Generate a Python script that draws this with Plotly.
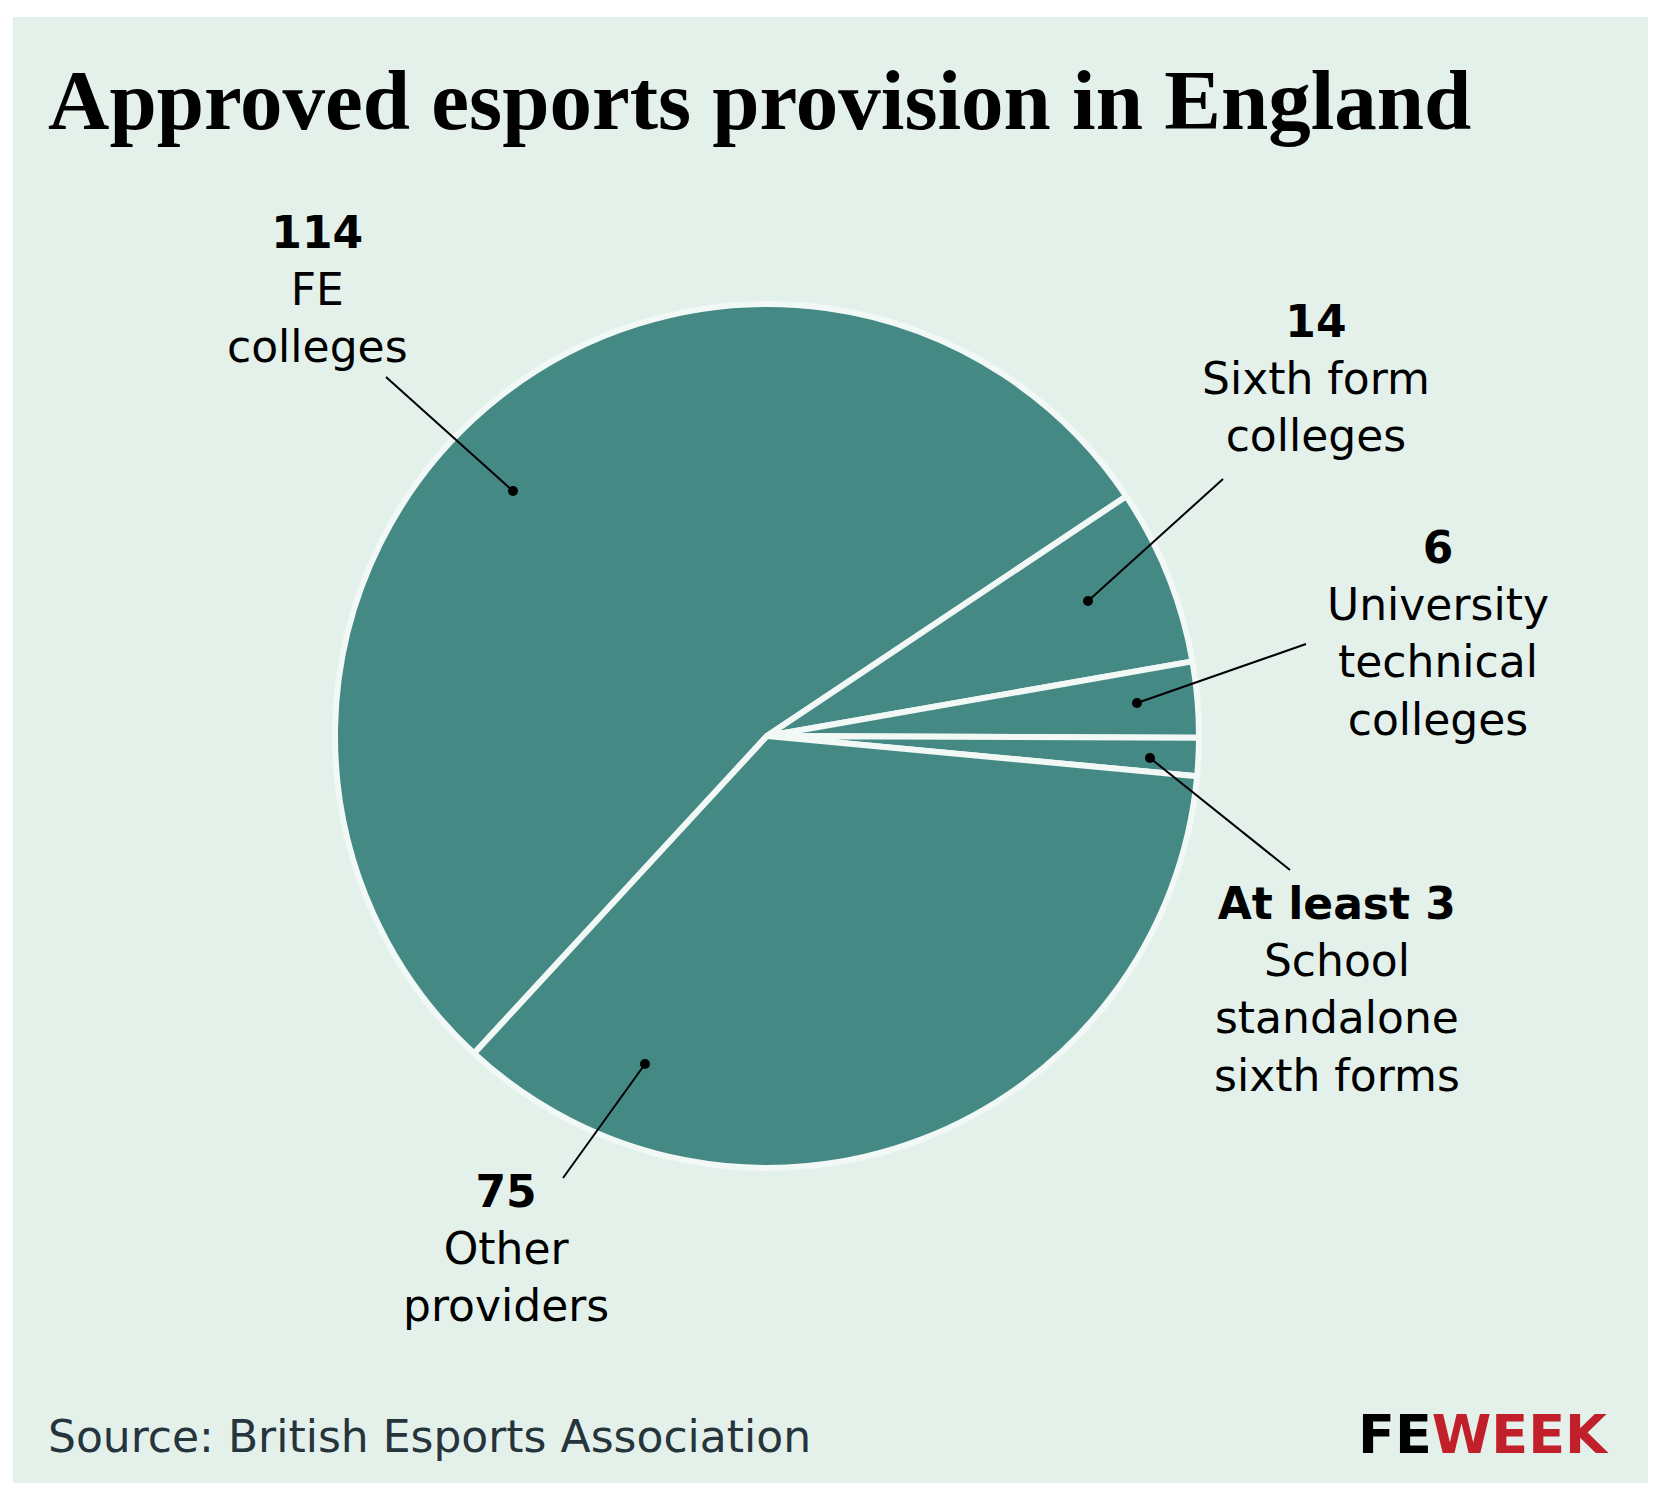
import plotly.graph_objects as go

# ---------------- data ----------------
categories = ["FE colleges", "Sixth form colleges", "University technical colleges",
              "School standalone sixth forms", "Other providers"]
values = [114, 14, 6, 3, 75]
value_labels = ["114", "14", "6", "At least 3", "75"]
name_lines = ["FE<br>colleges", "Sixth form<br>colleges", "University<br>technical<br>colleges",
              "School<br>standalone<br>sixth forms", "Other<br>providers"]

title_text = "Approved esports provision in England"
source_text = "Source: British Esports Association"

# ---------------- layout helpers (pixel -> paper) ----------------
W, H = 1667, 1500
def px(x):
    return x / W
def py(y):
    return 1 - y / H

PANEL = "#E4F1EB"
TEAL = "#458985"
SEP = "#F1F8F5"
LABEL_FONT = "DejaVu Sans"

# pie geometry in pixels
cx, cy, r = 767, 736, 432

fig = go.Figure()
fig.add_trace(go.Pie(
    labels=categories, values=values, sort=False, direction="clockwise",
    rotation=222.7,
    marker=dict(colors=[TEAL] * len(values), line=dict(color=SEP, width=6)),
    textinfo="none", hoverinfo="skip", showlegend=False,
    domain=dict(x=[px(cx - r), px(cx + r)], y=[py(cy + r), py(cy - r)]),
))

# label blocks: (center x, top y) and leader lines (start, dot)
label_pos = [(317, 205), (1316, 294), (1438, 520), (1337, 876), (506, 1164)]
leaders = [((386, 377), (513, 491)),
           ((1223, 479), (1088, 601)),
           ((1306, 644), (1137, 703)),
           ((1290, 870), (1150, 758)),
           ((563, 1178), (645, 1064))]

shapes = [dict(type="rect", xref="paper", yref="paper", x0=px(13), x1=px(1648),
               y0=py(1483), y1=py(17), fillcolor=PANEL, line=dict(width=0), layer="below")]
annotations = []
for i, (num, nm) in enumerate(zip(value_labels, name_lines)):
    (x0, y0), (x1, y1) = leaders[i]
    shapes.append(dict(type="line", xref="paper", yref="paper", x0=px(x0), y0=py(y0),
                       x1=px(x1), y1=py(y1), line=dict(color="black", width=2)))
    rr = 5
    shapes.append(dict(type="circle", xref="paper", yref="paper", x0=px(x1 - rr), x1=px(x1 + rr),
                       y0=py(y1 + rr), y1=py(y1 - rr), fillcolor="black", line=dict(width=0)))
    lx, ly = label_pos[i]
    annotations.append(dict(xref="paper", yref="paper", x=px(lx), y=py(ly), xanchor="center",
                            yanchor="top", showarrow=False, align="center",
                            text=f"<b>{num}</b><br>{nm}",
                            font=dict(family=LABEL_FONT, size=44, color="black")))

annotations.append(dict(xref="paper", yref="paper", x=px(46), y=py(100), xanchor="left",
                        yanchor="middle", showarrow=False, text=f"<b>{title_text}</b>",
                        font=dict(family="Liberation Serif", size=85, color="black")))
annotations.append(dict(xref="paper", yref="paper", x=px(46), y=py(1436), xanchor="left",
                        yanchor="middle", showarrow=False, text=source_text,
                        font=dict(family=LABEL_FONT, size=44, color="#26343B")))
annotations.append(dict(xref="paper", yref="paper", x=px(1611), y=py(1434), xanchor="right",
                        yanchor="middle", showarrow=False,
                        text="<b><span style='color:#000000'>FE</span><span style='color:#C1202A'>WEEK</span></b>",
                        font=dict(family="DejaVu Sans", size=54, color="#000000")))

fig.update_layout(width=W, height=H, margin=dict(l=0, r=0, t=0, b=0),
                  paper_bgcolor="white", plot_bgcolor="white",
                  shapes=shapes, annotations=annotations)

fig.write_html("out.html")
